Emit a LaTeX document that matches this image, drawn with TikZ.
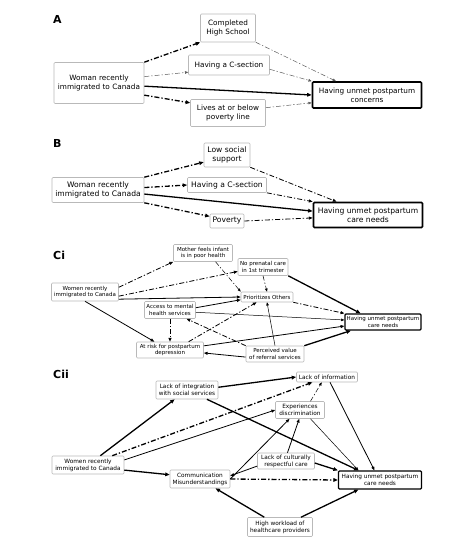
\documentclass[tikz,border=0pt]{standalone}
\usepackage{fontspec}
\setsansfont{DejaVu Sans}
\usetikzlibrary{shapes}
\usetikzlibrary {arrows.meta}
\tikzset{kasten/.style = {
    shape = rectangle, draw = gray!55, rounded corners = 1pt,
    line width = 0.6pt, align = center, inner sep = 1pt
}}
\tikzset{ziel/.style = {
    kasten, draw = black, line width = 1.7pt
}}
\tikzset{titel/.style = {
    anchor = west, inner sep = 0pt, font = \sffamily\bfseries\fontsize{11}{13}\selectfont
}}
\tikzset{dick/.style = {
    -{Triangle[length=4.5pt,width=3.6pt]}, line width = 1.3pt
}}
\tikzset{mittel/.style = {
    -{Triangle[length=3.8pt,width=3pt]}, line width = 0.8pt
}}
\tikzset{duenn/.style = {
    -{Triangle[length=3.2pt,width=2.6pt]}, line width = 0.5pt
}}
\tikzset{strichpunkt/.style = {
    dash pattern = on 5pt off 2pt on 1.3pt off 2pt
}}
\tikzset{grau/.style = {
    draw = gray!70!black
}}

\begin{document}
\begin{tikzpicture}[x=1pt,y=-1pt]
  \useasboundingbox (0,0) rectangle (474,551);

  % A
  \begin{scope}[font=\sffamily\fontsize{7.3}{9}\selectfont]
  \node (ta) at (53,19) [titel] {A};
  \node (aw) at (99,83) [kasten, minimum width=90pt, minimum height=41pt] {Woman recently\\immigrated to Canada};
  \node (ah) at (228,28) [kasten, minimum width=55pt, minimum height=28pt] {Completed\\High School};
  \node (ac) at (229,65) [kasten, minimum width=81pt, minimum height=20pt] {Having a C-section};
  \node (ap) at (228,113) [kasten, minimum width=75pt, minimum height=27pt] {Lives at or below\\poverty line};
  \node (az) at (367,95) [ziel, minimum width=109pt, minimum height=26pt] {Having unmet postpartum\\concerns};
  \draw[dick, strichpunkt] (aw.north east) -- (ah.south west);
  \draw[duenn, strichpunkt, grau] (aw.8) -- (ac.190);
  \draw[dick] (aw.-4) -- (az.west);
  \draw[dick, strichpunkt] (aw.-15) -- (ap.165);
  \draw[duenn, strichpunkt, grau] (ah.south east) -- (az.156);
  \draw[duenn, strichpunkt, grau] (ac.-6) -- (az.north west);
  \draw[duenn, strichpunkt, grau] (ap.8) -- (az.188);
  \end{scope}

  % B
  \begin{scope}[font=\sffamily\fontsize{7.6}{9.2}\selectfont]
  \node (tb) at (53,143.5) [titel] {B};
  \node (bw) at (98,190) [kasten, minimum width=92pt, minimum height=25pt] {Woman recently\\immigrated to Canada};
  \node (bl) at (227,155) [kasten, minimum width=46pt, minimum height=24pt] {Low social\\support};
  \node (bc) at (227,185) [kasten, minimum width=79pt, minimum height=15pt] {Having a C-section};
  \node (bp) at (227,221) [kasten, minimum width=34pt, minimum height=14pt] {Poverty};
  \node (bz) at (368,215) [ziel, minimum width=109pt, minimum height=25pt] {Having unmet postpartum\\care needs};
  \draw[dick, strichpunkt] (bw.north east) -- (bl.197);
  \draw[dick, strichpunkt] (bw.3) -- (bc.west);
  \draw[dick] (bw.-5) -- (bz.176);
  \draw[dick, strichpunkt] (bw.south east) -- (bp.165);
  \draw[mittel, strichpunkt] (bl.south east) -- (bz.157);
  \draw[mittel, strichpunkt] (bc.south east) -- (bz.north west);
  \draw[mittel, strichpunkt] (bp.east) -- (bz.183);
  \end{scope}

  % Ci
  \begin{scope}[font=\sffamily\fontsize{5.5}{6.6}\selectfont]
  \node (tc) at (53,255.5) [titel] {Ci};
  \node (cw) at (85,292) [kasten, minimum width=67pt, minimum height=18pt] {Women recently\\immigrated to Canada};
  \node (cm) at (203,253) [kasten, minimum width=59pt, minimum height=17pt] {Mother feels infant\\is in poor health};
  \node (cn) at (263,267) [kasten, minimum width=50pt, minimum height=17pt] {No prenatal care\\in 1st trimester};
  \node (co) at (267,297) [kasten, minimum width=52pt, minimum height=10pt] {Prioritizes Others};
  \node (ca) at (170,310) [kasten, minimum width=51pt, minimum height=17pt] {Access to mental\\health services};
  \node (cz) at (383,322) [ziel, line width=1.2pt, minimum width=76pt, minimum height=16pt] {Having unmet postpartum\\care needs};
  \node (cr) at (170,350) [kasten, minimum width=67pt, minimum height=16pt] {At risk for postpartum\\depression};
  \node (cv) at (275,354) [kasten, minimum width=58pt, minimum height=16pt] {Perceived value\\of referral services};
  \draw[mittel, strichpunkt] (cw.8) -- (cm.south west);
  \draw[mittel, strichpunkt] (cw.-7) -- (cn.190);
  \draw[mittel] (cw.-12) -- (co.west);
  \draw[mittel] (cw.south) -- (cr.152);
  \draw[duenn, strichpunkt] (cm.-35) -- (co.north west);
  \draw[duenn, strichpunkt] (cn.south) -- (co.north);
  \draw[dick] (cn.south east) -- (cz.159);
  \draw[mittel, strichpunkt] (co.south east) -- (cz.north west);
  \draw[mittel] (ca.5) -- (co.186);
  \draw[duenn] (ca.-5) -- (cz.177);
  \draw[mittel, strichpunkt] (ca.south) -- (cr.north);
  \draw[mittel, strichpunkt] (cr.24) -- (co.207);
  \draw[mittel] (cr.7) -- (cz.186);
  \draw[mittel] (cv.186) -- (cr.-5);
  \draw[mittel, strichpunkt] (cv.north west) -- (ca.-28);
  \draw[duenn] (cv.north) -- (co.south);
  \draw[dick] (cv.north east) -- (cz.195);
  \end{scope}

  % Cii
  \begin{scope}[font=\sffamily\fontsize{5.8}{7}\selectfont]
  \node (td) at (53,374) [titel] {Cii};
  \node (dw) at (88,465) [kasten, minimum width=72pt, minimum height=18pt] {Women recently\\immigrated to Canada};
  \node (dl) at (187,390) [kasten, minimum width=62pt, minimum height=18pt] {Lack of integration\\with social services};
  \node (di) at (327,377) [kasten, minimum width=61pt, minimum height=10pt] {Lack of information};
  \node (de) at (300,410) [kasten, minimum width=49pt, minimum height=17pt] {Experiences\\discrimination};
  \node (dk) at (286,461) [kasten, minimum width=57pt, minimum height=16pt] {Lack of culturally\\respectful care};
  \node (dc) at (200,479) [kasten, minimum width=60pt, minimum height=18pt] {Communication\\Misunderstandings};
  \node (dz) at (380,480) [ziel, line width=1.2pt, minimum width=83pt, minimum height=18pt] {Having unmet postpartum\\care needs};
  \node (dh) at (280,527) [kasten, minimum width=65pt, minimum height=19pt] {High workload of\\healthcare providers};
  \draw[dick] (dw.37) -- (dl.217);
  \draw[dick, strichpunkt] (dw.21) -- (di.200);
  \draw[mittel] (dw.8) -- (de.west);
  \draw[dick] (dw.-8) -- (dc.172);
  \draw[dick] (dl.5) -- (di.west);
  \draw[dick] (dl.-25) -- (dz.156);
  \draw[duenn, strichpunkt] (de.40) -- (di.225);
  \draw[duenn] (de.-40) -- (dz.156);
  \draw[mittel] (di.-60) -- (dz.120);
  \draw[mittel] (dc.east) -- (de.220);
  \draw[dick, strichpunkt] (dc.east) -- (dz.west);
  \draw[mittel] (dk.190) -- (dc.6);
  \draw[mittel] (dk.80) -- (de.-95);
  \draw[dick] (dk.-4) -- (dz.north west);
  \draw[dick] (dh.148) -- (dc.-31);
  \draw[dick] (dh.25) -- (dz.204);
  \end{scope}
\end{tikzpicture}
\end{document}
